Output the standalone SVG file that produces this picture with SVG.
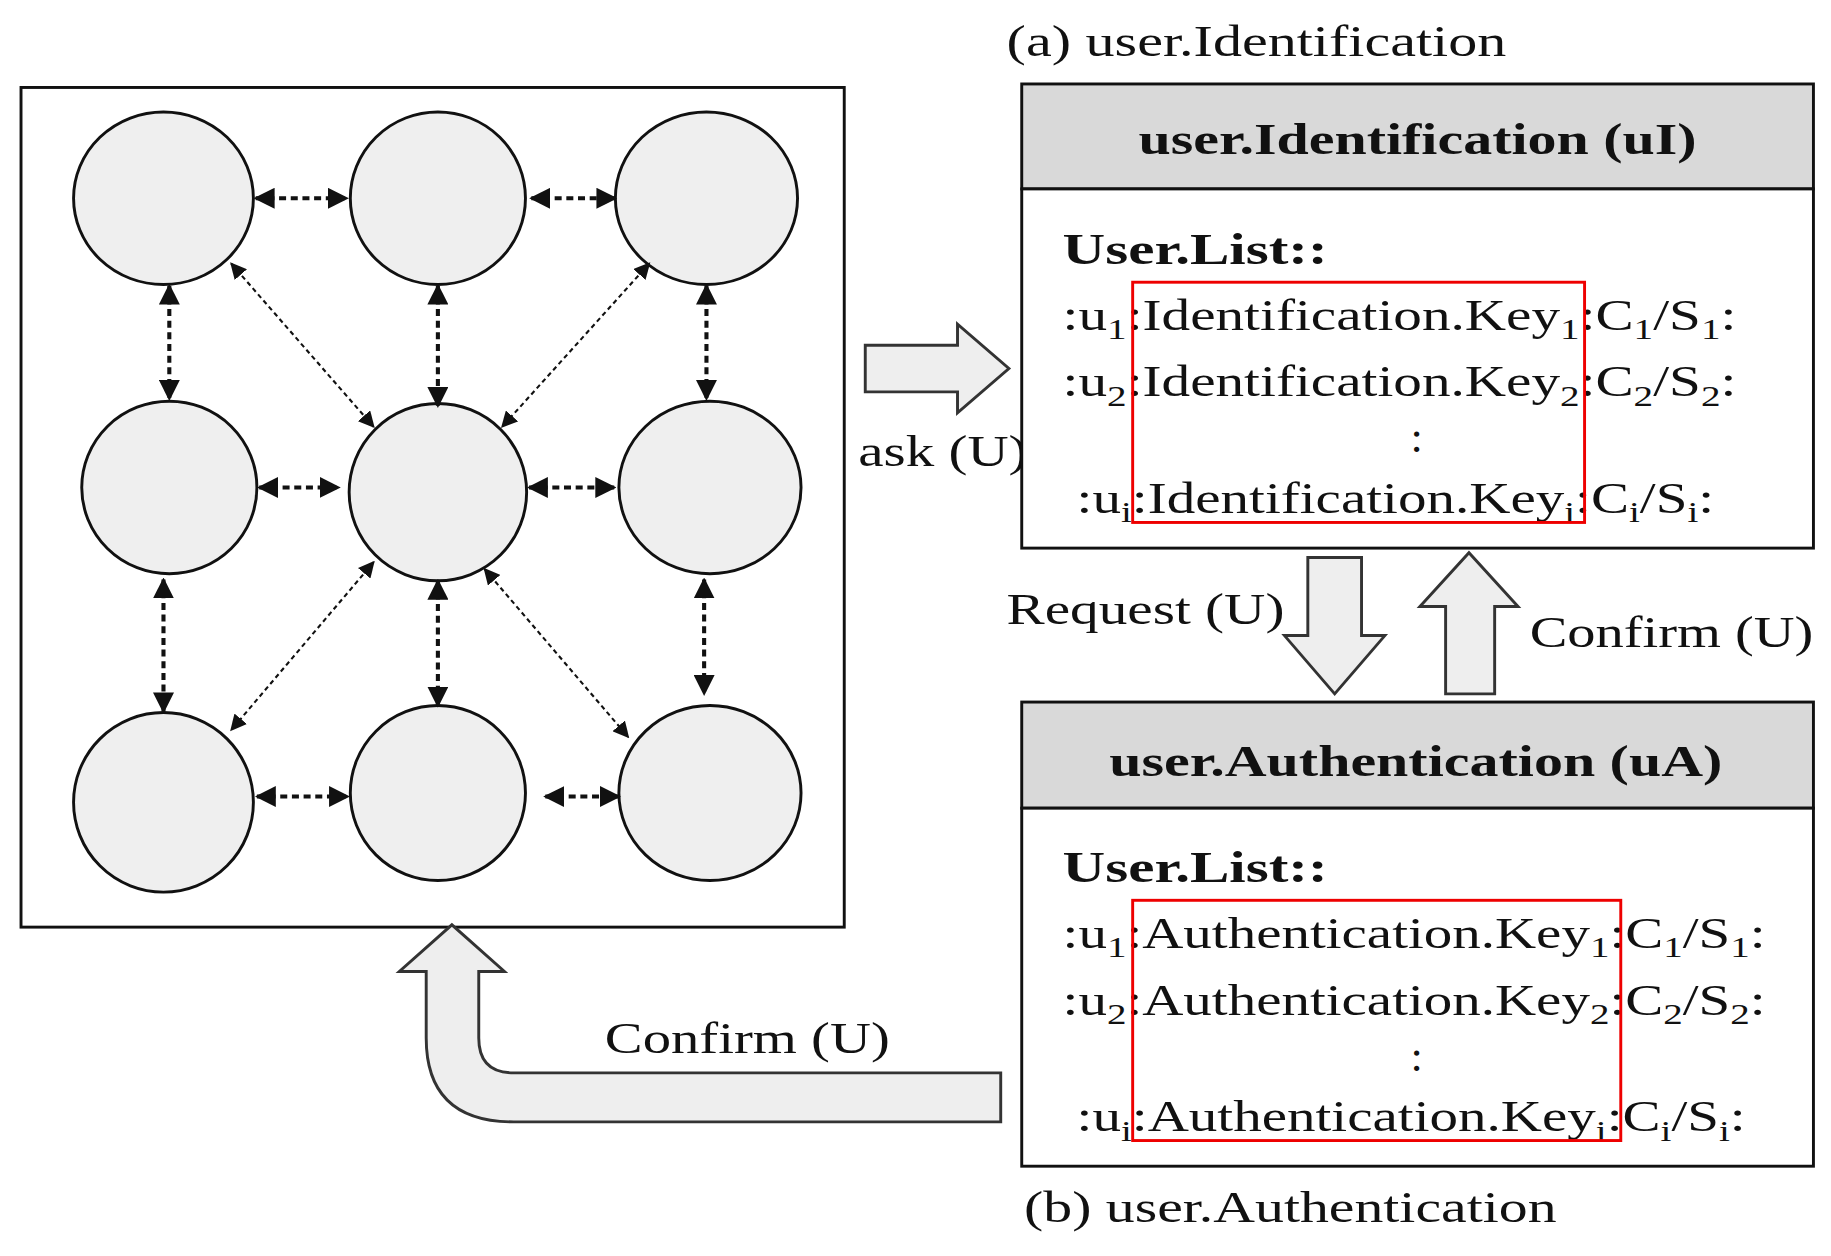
<svg xmlns="http://www.w3.org/2000/svg" width="1831" height="1256" viewBox="0 0 1831 1256">
<defs>
<style>
.t{font-family:"Liberation Serif",serif;font-size:38px;fill:#111}
.b{font-weight:bold}
.n{fill:#efefef;stroke:#111;stroke-width:2.5}
.c{stroke:#111;fill:none}
.blk{fill:#eeeeee;stroke:#333;stroke-width:2.5}
</style>
<marker id="h" viewBox="0 0 10 10" refX="9" refY="5" markerWidth="18" markerHeight="18" markerUnits="userSpaceOnUse" orient="auto-start-reverse"><path d="M0,0L10,5L0,10z" fill="#111"/></marker>
<marker id="hs" viewBox="0 0 10 10" refX="9" refY="5" markerWidth="14" markerHeight="14" markerUnits="userSpaceOnUse" orient="auto-start-reverse"><path d="M0,0L10,5L0,10z" fill="#111"/></marker>
</defs>
<rect width="1831" height="1256" fill="#fff"/>
<g transform="scale(1.1677,1.1662)">
<rect id="network" x="18" y="75" width="705" height="720" fill="#fff" stroke="#111" stroke-width="2.5"/>
<g id="n11"><ellipse class="n" cx="140" cy="170" rx="77" ry="74"/></g>
<g id="n12"><ellipse class="n" cx="375" cy="170" rx="75" ry="74"/></g>
<g id="n13"><ellipse class="n" cx="605" cy="170" rx="78" ry="74"/></g>
<g id="n21"><ellipse class="n" cx="145" cy="418" rx="75" ry="74"/></g>
<g id="n22"><ellipse class="n" cx="375" cy="422" rx="76" ry="76"/></g>
<g id="n23"><ellipse class="n" cx="608" cy="418" rx="78" ry="74"/></g>
<g id="n31"><ellipse class="n" cx="140" cy="688" rx="77" ry="77"/></g>
<g id="n32"><ellipse class="n" cx="375" cy="680" rx="75" ry="75"/></g>
<g id="n33"><ellipse class="n" cx="608" cy="680" rx="78" ry="75"/></g>
<g id="connectors">
<g stroke-width="3.5" stroke-dasharray="6,4" class="c" marker-start="url(#h)" marker-end="url(#h)">
<line x1="219" y1="170" x2="297" y2="170"/><line x1="455" y1="170" x2="527" y2="170"/>
<line x1="222" y1="418" x2="290" y2="418"/><line x1="453" y1="418" x2="526" y2="418"/>
<line x1="220" y1="683" x2="298" y2="683"/><line x1="467" y1="683" x2="530" y2="683"/>
<line x1="145" y1="245" x2="145" y2="342"/><line x1="140" y1="497" x2="140" y2="610"/>
<line x1="375" y1="245" x2="375" y2="348"/><line x1="375" y1="498" x2="375" y2="605"/>
<line x1="605" y1="245" x2="605" y2="342"/><line x1="603" y1="497" x2="603" y2="595"/>
</g>
<g stroke-width="1.8" stroke-dasharray="4,3" class="c" marker-start="url(#hs)" marker-end="url(#hs)">
<line x1="198" y1="226" x2="320" y2="366"/><line x1="556" y1="226" x2="430" y2="366"/>
<line x1="320" y1="482" x2="198" y2="626"/><line x1="415" y1="488" x2="538" y2="632"/>
</g>
</g>
<g id="askArrow"><path class="blk" d="M741,296L820,296L820,278L864,316L820,354L820,336L741,336Z"/><text class="t" x="735" y="400" textLength="145" lengthAdjust="spacingAndGlyphs">ask (U)</text></g>
<g id="reqArrow"><path class="blk" d="M1120,478L1166,478L1166,545L1186,545L1143,595L1100,545L1120,545Z"/><text class="t" x="862" y="535" textLength="238" lengthAdjust="spacingAndGlyphs">Request (U)</text></g>
<g id="confArrow"><path class="blk" d="M1238,595L1280,595L1280,520L1300,520L1258,474L1216,520L1238,520Z"/><text class="t" x="1310" y="555" textLength="243" lengthAdjust="spacingAndGlyphs">Confirm (U)</text></g>
<g id="bentArrow"><path class="blk" d="M857,920L440,920Q410,920 410,890L410,833L432,833L387,793L342,833L365,833L365,890Q365,962 440,962L857,962Z"/><text class="t" x="518" y="903" textLength="244" lengthAdjust="spacingAndGlyphs">Confirm (U)</text></g>
<text class="t" x="862" y="48" textLength="428" lengthAdjust="spacingAndGlyphs">(a) user.Identification</text>
<g id="uI">
<rect x="875" y="72" width="678" height="90" fill="#d9d9d9" stroke="#111" stroke-width="2.5"/>
<rect x="875" y="162" width="678" height="308" fill="#fff" stroke="#111" stroke-width="2.5"/>
<text class="t b" x="975" y="132" font-size="40" textLength="478" lengthAdjust="spacingAndGlyphs">user.Identification (uI)</text>
<text class="t b" x="910" y="226" textLength="227" lengthAdjust="spacingAndGlyphs">User.List::</text>
<text class="t" x="910" y="283" textLength="577" lengthAdjust="spacingAndGlyphs">:u<tspan font-size="26" dy="8">1</tspan><tspan dy="-8">:Identification.Key</tspan><tspan font-size="26" dy="8">1</tspan><tspan dy="-8">:C</tspan><tspan font-size="26" dy="8">1</tspan><tspan dy="-8">/S</tspan><tspan font-size="26" dy="8">1</tspan><tspan dy="-8">:</tspan></text>
<text class="t" x="910" y="340" textLength="577" lengthAdjust="spacingAndGlyphs">:u<tspan font-size="26" dy="8">2</tspan><tspan dy="-8">:Identification.Key</tspan><tspan font-size="26" dy="8">2</tspan><tspan dy="-8">:C</tspan><tspan font-size="26" dy="8">2</tspan><tspan dy="-8">/S</tspan><tspan font-size="26" dy="8">2</tspan><tspan dy="-8">:</tspan></text>
<text class="t" x="1208" y="388">:</text>
<text class="t" x="922" y="440" textLength="546" lengthAdjust="spacingAndGlyphs">:u<tspan font-size="26" dy="8">i</tspan><tspan dy="-8">:Identification.Key</tspan><tspan font-size="26" dy="8">i</tspan><tspan dy="-8">:C</tspan><tspan font-size="26" dy="8">i</tspan><tspan dy="-8">/S</tspan><tspan font-size="26" dy="8">i</tspan><tspan dy="-8">:</tspan></text>
<rect x="970" y="242" width="387" height="206" fill="none" stroke="#e00" stroke-width="2.5"/>
</g>
<g id="uA">
<rect x="875" y="602" width="678" height="91" fill="#d9d9d9" stroke="#111" stroke-width="2.5"/>
<rect x="875" y="693" width="678" height="307" fill="#fff" stroke="#111" stroke-width="2.5"/>
<text class="t b" x="950" y="665" font-size="40" textLength="525" lengthAdjust="spacingAndGlyphs">user.Authentication (uA)</text>
<text class="t b" x="910" y="756" textLength="227" lengthAdjust="spacingAndGlyphs">User.List::</text>
<text class="t" x="910" y="813" textLength="602" lengthAdjust="spacingAndGlyphs">:u<tspan font-size="26" dy="8">1</tspan><tspan dy="-8">:Authentication.Key</tspan><tspan font-size="26" dy="8">1</tspan><tspan dy="-8">:C</tspan><tspan font-size="26" dy="8">1</tspan><tspan dy="-8">/S</tspan><tspan font-size="26" dy="8">1</tspan><tspan dy="-8">:</tspan></text>
<text class="t" x="910" y="870" textLength="602" lengthAdjust="spacingAndGlyphs">:u<tspan font-size="26" dy="8">2</tspan><tspan dy="-8">:Authentication.Key</tspan><tspan font-size="26" dy="8">2</tspan><tspan dy="-8">:C</tspan><tspan font-size="26" dy="8">2</tspan><tspan dy="-8">/S</tspan><tspan font-size="26" dy="8">2</tspan><tspan dy="-8">:</tspan></text>
<text class="t" x="1208" y="918">:</text>
<text class="t" x="922" y="970" textLength="573" lengthAdjust="spacingAndGlyphs">:u<tspan font-size="26" dy="8">i</tspan><tspan dy="-8">:Authentication.Key</tspan><tspan font-size="26" dy="8">i</tspan><tspan dy="-8">:C</tspan><tspan font-size="26" dy="8">i</tspan><tspan dy="-8">/S</tspan><tspan font-size="26" dy="8">i</tspan><tspan dy="-8">:</tspan></text>
<rect x="970" y="772" width="418" height="206" fill="none" stroke="#e00" stroke-width="2.5"/>
</g>
<text class="t" x="877" y="1048" textLength="456" lengthAdjust="spacingAndGlyphs">(b) user.Authentication</text>
</g>
</svg>
